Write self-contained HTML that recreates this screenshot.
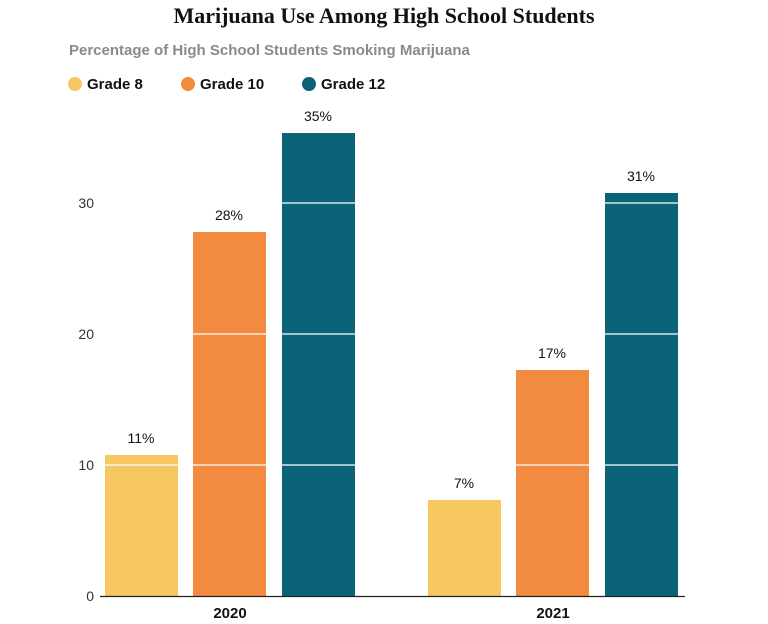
<!DOCTYPE html>
<html><head><meta charset="utf-8"><style>
body{margin:0;background:#fff;}
</style></head><body>
<svg width="768" height="624" xmlns="http://www.w3.org/2000/svg" style="display:block">
<rect width="768" height="624" fill="#fff"/>
<text x="384" y="23" text-anchor="middle" font-family="Liberation Serif, serif" font-weight="bold" font-size="22" fill="#111">Marijuana Use Among High School Students</text>
<text x="69" y="55" font-family="Liberation Sans, sans-serif" font-weight="bold" font-size="15" fill="#8a8a8a">Percentage of High School Students Smoking Marijuana</text>
<circle cx="75" cy="84" r="7" fill="#f6c760"/>
<text x="87" y="89" font-family="Liberation Sans, sans-serif" font-weight="bold" font-size="15" fill="#111">Grade 8</text>
<circle cx="188" cy="84" r="7" fill="#f28a3f"/>
<text x="200" y="89" font-family="Liberation Sans, sans-serif" font-weight="bold" font-size="15" fill="#111">Grade 10</text>
<circle cx="309" cy="84" r="7" fill="#0b6378"/>
<text x="321" y="89" font-family="Liberation Sans, sans-serif" font-weight="bold" font-size="15" fill="#111">Grade 12</text>

<g font-family="Liberation Sans, sans-serif" font-size="14" fill="#333" text-anchor="end">
<text x="94" y="601">0</text>
<text x="94" y="470">10</text>
<text x="94" y="339">20</text>
<text x="94" y="208">30</text>
</g>

<rect x="105" y="455" width="73" height="141" fill="#f6c760"/>
<rect x="193" y="232" width="73" height="364" fill="#f28a3f"/>
<rect x="282" y="133" width="73" height="463" fill="#0b6378"/>
<rect x="428" y="500" width="73" height="96" fill="#f6c760"/>
<rect x="516" y="370" width="73" height="226" fill="#f28a3f"/>
<rect x="605" y="193" width="73" height="403" fill="#0b6378"/>

<g stroke="#fff" stroke-width="1.3">
<line x1="100" y1="465" x2="685" y2="465"/>
<line x1="100" y1="334" x2="685" y2="334"/>
<line x1="100" y1="203" x2="685" y2="203"/>
</g>
<line x1="100" y1="596.5" x2="685" y2="596.5" stroke="#222" stroke-width="1.3"/>

<g font-family="Liberation Sans, sans-serif" font-size="14" fill="#111" text-anchor="middle">
<text x="141" y="443">11%</text>
<text x="229" y="220">28%</text>
<text x="318" y="121">35%</text>
<text x="464" y="488">7%</text>
<text x="552" y="358">17%</text>
<text x="641" y="181">31%</text>
</g>
<g font-family="Liberation Sans, sans-serif" font-weight="bold" font-size="15" fill="#111" text-anchor="middle">
<text x="230" y="618">2020</text>
<text x="553" y="618">2021</text>
</g>
</svg>
</body></html>
